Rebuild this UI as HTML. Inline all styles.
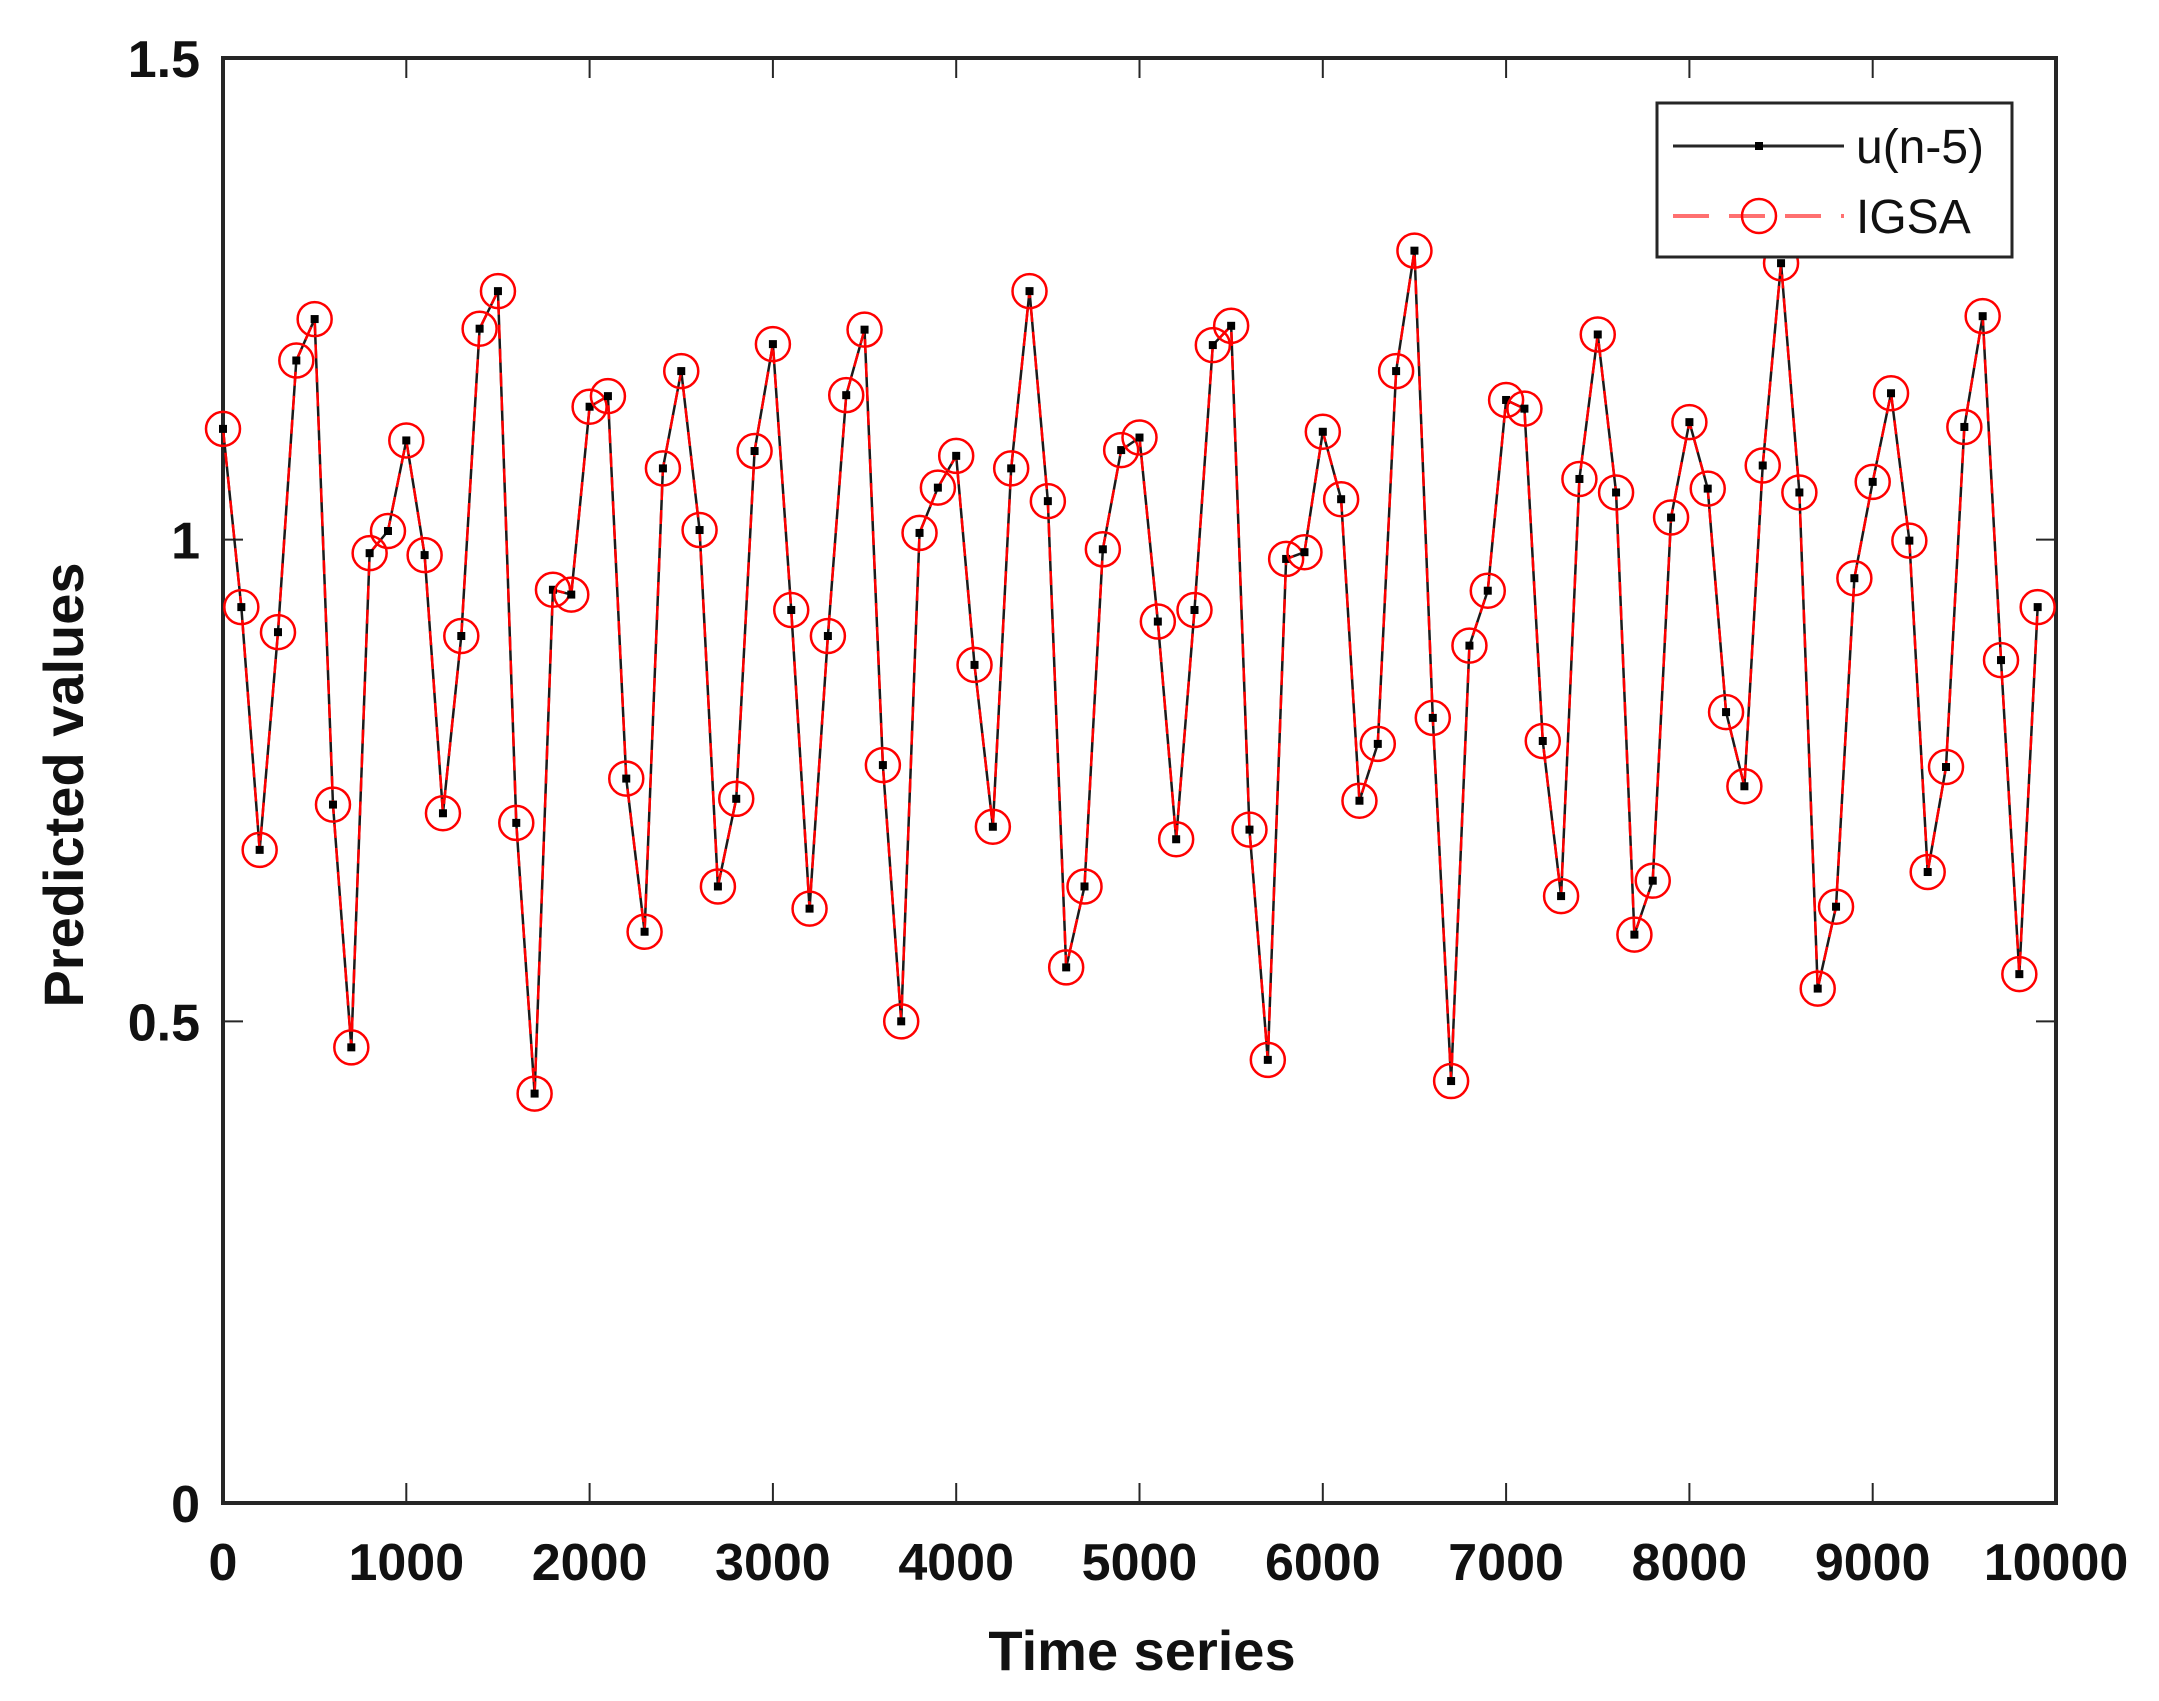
<!DOCTYPE html>
<html><head><meta charset="utf-8"><style>
html,body{margin:0;padding:0;background:#fff;}
svg{display:block;}
text{font-family:"Liberation Sans",Arial,sans-serif;fill:#111;}
</style></head><body>
<svg id="chart" width="2159" height="1701" viewBox="0 0 2159 1701">
<g id="plot"></g>
</svg>
<script>
const xTicks=[0,1000,2000,3000,4000,5000,6000,7000,8000,9000,10000];
const yTicks=[0,0.5,1,1.5];
const yTickLabels=["0","0.5","1","1.5"];
const timeSteps=[0,100,200,300,400,500,600,700,800,900,1000,1100,1200,1300,1400,1500,1600,1700,1800,1900,2000,2100,2200,2300,2400,2500,2600,2700,2800,2900,3000,3100,3200,3300,3400,3500,3600,3700,3800,3900,4000,4100,4200,4300,4400,4500,4600,4700,4800,4900,5000,5100,5200,5300,5400,5500,5600,5700,5800,5900,6000,6100,6200,6300,6400,6500,6600,6700,6800,6900,7000,7100,7200,7300,7400,7500,7600,7700,7800,7900,8000,8100,8200,8300,8400,8500,8600,8700,8800,8900,9000,9100,9200,9300,9400,9500,9600,9700,9800,9900];
const actualValues=[1.115,0.93,0.678,0.904,1.186,1.229,0.725,0.473,0.986,1.009,1.103,0.984,0.716,0.90,1.219,1.258,0.706,0.425,0.948,0.943,1.138,1.149,0.752,0.593,1.074,1.175,1.01,0.640,0.731,1.092,1.203,0.927,0.617,0.90,1.150,1.218,0.766,0.50,1.007,1.054,1.087,0.87,0.702,1.074,1.258,1.040,0.556,0.640,0.99,1.093,1.106,0.915,0.689,0.927,1.202,1.222,0.699,0.46,0.98,0.987,1.112,1.042,0.729,0.788,1.175,1.30,0.815,0.438,0.89,0.947,1.145,1.136,0.791,0.630,1.063,1.213,1.049,0.590,0.646,1.023,1.122,1.053,0.821,0.744,1.077,1.287,1.049,0.534,0.619,0.96,1.06,1.152,0.999,0.655,0.764,1.117,1.232,0.875,0.549,0.93];
const predictedValues=actualValues.slice();

const L=223,R=2056,T=58,B=1503;
const xs=v=>L+(v-0)/(10000-0)*(R-L);
const ys=v=>B-(v-0)/(1.5-0)*(B-T);
const NS="http://www.w3.org/2000/svg";
const g=document.getElementById('plot');
function mk(tag,attrs,parent){const e=document.createElementNS(NS,tag);for(const k in attrs)e.setAttribute(k,attrs[k]);(parent||g).appendChild(e);return e;}

let box=mk('rect',{x:L,y:T,width:R-L,height:B-T,fill:'none',stroke:'#262626','stroke-width':4});



xTicks.forEach(v=>{
  const x=xs(v);
  const t1=mk('line',{x1:x,y1:B,x2:x,y2:B-20,stroke:'#262626','stroke-width':2});
  
  
  const t2=mk('line',{x1:x,y1:T,x2:x,y2:T+20,stroke:'#262626','stroke-width':2});
  
  
  const tx=mk('text',{x:x,y:1580,'text-anchor':'middle','font-size':52,'font-weight':'bold'});
  tx.textContent=String(v);
  
  
});
yTicks.forEach((v,i)=>{
  const y=ys(v);
  const t1=mk('line',{x1:L,y1:y,x2:L+20,y2:y,stroke:'#262626','stroke-width':2});
  
  
  const t2=mk('line',{x1:R,y1:y,x2:R-20,y2:y,stroke:'#262626','stroke-width':2});
  
  
  const tx=mk('text',{x:200,y:y+19,'text-anchor':'end','font-size':52,'font-weight':'bold'});
  tx.textContent=yTickLabels[i];
  
  
});
const xt=mk('text',{x:1142,y:1670,'text-anchor':'middle','font-size':56,'font-weight':'bold'});
xt.textContent='Time series';


const yt=mk('text',{x:0,y:0,'text-anchor':'middle','font-size':56,'font-weight':'bold',transform:'translate(83,785) rotate(-90)'});
yt.textContent='Predicted values';



const ptsA=timeSteps.map((t,i)=>xs(t)+','+ys(actualValues[i])).join(' ');
const ptsP=timeSteps.map((t,i)=>xs(t)+','+ys(predictedValues[i])).join(' ');
const la=mk('polyline',{points:ptsA,fill:'none',stroke:'#1a1a1a','stroke-width':2.5});


const lp=mk('polyline',{points:ptsP,fill:'none',stroke:'#ff0000','stroke-width':2.5,'stroke-dasharray':'14 10'});


timeSteps.forEach((t,i)=>{
  const c=mk('circle',{cx:xs(t),cy:ys(predictedValues[i]),r:17,fill:'none',stroke:'#ff0000','stroke-width':2.5});
  
  
  const d=mk('rect',{x:xs(t)-4,y:ys(actualValues[i])-4,width:8,height:8,fill:'#000'});
  
  
});

const lg=mk('g',{});


mk('rect',{x:1657,y:103,width:355,height:154,fill:'#fff',stroke:'#262626','stroke-width':3},lg);
const e1=mk('g',{},lg);


mk('line',{x1:1673,y1:146,x2:1844,y2:146,stroke:'#262626','stroke-width':3},e1);
mk('rect',{x:1755,y:142,width:8,height:8,fill:'#000'},e1);
const t1=mk('text',{x:1856,y:163,'font-size':48},e1);t1.textContent='u(n-5)';
const e2=mk('g',{},lg);


mk('line',{x1:1673,y1:216,x2:1844,y2:216,stroke:'#ff7070','stroke-width':4,'stroke-dasharray':'36 20'},e2);
mk('circle',{cx:1759,cy:216,r:17,fill:'none',stroke:'#ff0000','stroke-width':2.5},e2);
const t2=mk('text',{x:1856,y:233,'font-size':48},e2);t2.textContent='IGSA';
</script>
</body></html>
